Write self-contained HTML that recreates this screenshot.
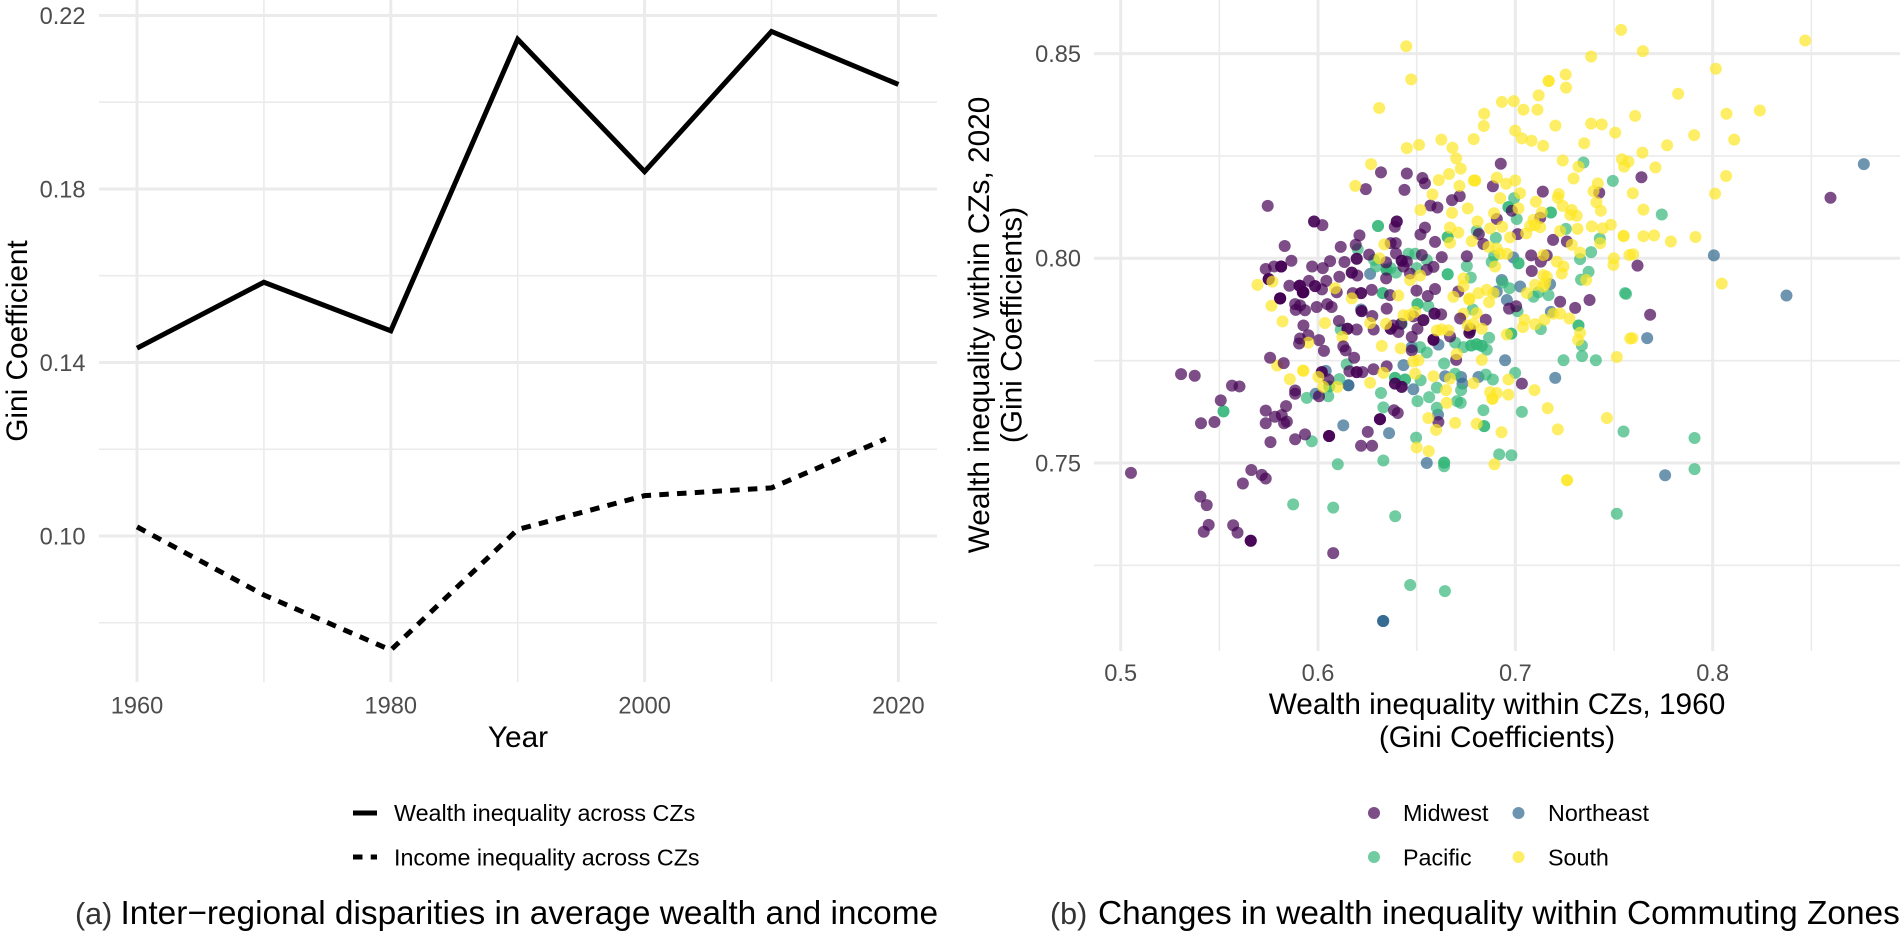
<!DOCTYPE html>
<html lang="en">
<head>
<meta charset="utf-8">
<title>Wealth and income inequality across Commuting Zones</title>
<style>
html,body{margin:0;padding:0;background:#fff;}
svg{display:block;}
text{font-family:"Liberation Sans",Arial,sans-serif;}
.tick{font-size:23.6px;fill:#4d4d4d;}
.title{font-size:29.8px;fill:#000;}
.legend{font-size:23.3px;fill:#000;}
.caption{font-size:33.4px;fill:#000;}
.tag{font-size:30.5px;fill:#333;}
</style>
</head>
<body>
<svg id="figure" width="1900" height="942" viewBox="0 0 1900 942" xmlns="http://www.w3.org/2000/svg">
  <rect width="1900" height="942" fill="#ffffff"/>
  <g id="left-grid"></g>
  <g id="right-grid"></g>
  <g id="left-marks"></g>
  <g id="right-marks"></g>
  <g id="left-ticks"></g>
  <g id="right-ticks"></g>

  <text class="title" x="518" y="747" text-anchor="middle">Year</text>
  <text class="title" transform="translate(27,341) rotate(-90)" text-anchor="middle">Gini Coefficient</text>

  <g>
    <line x1="353" x2="377" y1="813" y2="813" stroke="#000" stroke-width="5"/>
    <text class="legend" x="394" y="821">Wealth inequality across CZs</text>
    <line x1="353" x2="377" y1="857" y2="857" stroke="#000" stroke-width="5" stroke-dasharray="9.5 8.25"/>
    <text class="legend" x="394" y="865.5">Income inequality across CZs</text>
  </g>

  <text class="tag" x="75" y="924">(a)</text>
  <text class="caption" x="120.5" y="924">Inter−regional disparities in average wealth and income</text>

  <text class="title" x="1497" y="714" text-anchor="middle">Wealth inequality within CZs, 1960</text>
  <text class="title" x="1497" y="747" text-anchor="middle">(Gini Coefficients)</text>
  <text class="title" transform="translate(989,325) rotate(-90)" text-anchor="middle">Wealth inequality within CZs, 2020</text>
  <text class="title" transform="translate(1021.5,325) rotate(-90)" text-anchor="middle">(Gini Coefficients)</text>

  <g>
    <circle cx="1374" cy="813" r="6" fill="#440154" fill-opacity="0.7"/>
    <text class="legend" x="1403" y="821">Midwest</text>
    <circle cx="1518.5" cy="813" r="6" fill="#31688E" fill-opacity="0.7"/>
    <text class="legend" x="1548" y="821">Northeast</text>
    <circle cx="1374" cy="857" r="6" fill="#35B779" fill-opacity="0.7"/>
    <text class="legend" x="1403" y="865.5">Pacific</text>
    <circle cx="1518.5" cy="857" r="6" fill="#FDE725" fill-opacity="0.7"/>
    <text class="legend" x="1548" y="865.5">South</text>
  </g>

  <text class="tag" x="1050" y="924">(b)</text>
  <text class="caption" x="1098" y="924">Changes in wealth inequality within Commuting Zones</text>
</svg>
<script>
// Panel (a) data
const wealthYears = [1960,1970,1980,1990,2000,2010,2020];
const wealthGini = [0.1433,0.1585,0.1473,0.2145,0.1840,0.2163,0.2041];
const incomeYears = [1960,1970,1980,1990,2000,2010,2019];
const incomeGini = [0.1021,0.0864,0.0737,0.1015,0.1093,0.1111,0.1224];
const leftXMajor = [1960,1980,2000,2020];
const leftXMinor = [1970,1990,2010];
const leftYMajor = [0.10,0.14,0.18,0.22];
const leftYMinor = [0.08,0.12,0.16,0.20];

// Panel (b) ticks
const rightXMajor = [0.5,0.6,0.7,0.8];
const rightXMinor = [0.55,0.65,0.75,0.85];
const rightYMajor = [0.75,0.80,0.85];
const rightYMinor = [0.725,0.775,0.825];

// Panel (b) data: Gini 1960 and Gini 2020 per commuting zone
const southGini1960 = [0.6450,0.6512,0.6625,0.6681,0.6789,0.6789,0.6999,0.7033,0.7082,0.7141,0.7349,0.7506,0.6700,0.6723,0.6269,0.6189,0.6664,0.6612,0.6717,0.6796,0.6796,0.6906,0.6953,0.6999,0.7240,0.7320,0.7295,0.7540,0.7573,0.7551,0.7418,0.7396,0.7411,0.7433,0.6580,0.6519,0.6679,0.6759,0.6923,0.7024,0.7104,0.7220,0.7215,0.7240,0.7286,0.7311,0.7278,0.6892,0.7016,0.7134,0.6808,0.6669,0.6711,0.6872,0.6933,0.7092,0.7075,0.7126,0.7100,0.7387,0.7442,0.7484,0.7315,0.7227,0.7548,0.6779,0.6669,0.6336,0.6973,0.7055,0.6906,0.6864,0.6957,0.6923,0.7286,0.7328,0.7142,0.7210,0.7244,0.7235,0.7499,0.7497,0.7578,0.7142,0.7159,0.6897,0.6737,0.6737,0.6466,0.6517,0.6311,0.6686,0.6767,0.6813,0.6855,0.6889,0.7058,0.7100,0.7151,0.7430,0.6086,0.6171,0.6407,0.7142,0.7359,
0.6035,0.6123,0.6323,0.6419,0.6345,0.6264,0.6433,0.6492,0.6463,0.6737,0.6804,0.6766,0.6867,0.7046,0.7100,0.7148,0.7038,0.7193,0.7227,0.7274,0.6957,0.7328,0.7318,0.6830,0.6627,0.6602,0.6661,0.6788,0.6759,0.6703,0.6830,0.7514,0.7582,0.6509,0.6483,0.5926,0.6002,0.6331,0.6492,0.6585,0.6669,0.6788,0.6264,0.6965,0.7097,0.6098,0.6649,0.6965,0.6872,0.6906,0.6884,0.6884,0.6652,0.7164,0.7464,0.7215,0.6695,0.6804,0.6559,0.6598,0.6930,0.6500,0.6561,0.6894,0.6027,
0.5693,0.5769,0.5764,0.5820,0.5857,0.5793,0.5924,0.5951,
0.6447,0.6472,0.6310,0.6842,0.6840,0.7536,0.8469,0.7646,0.7384,0.7255,0.7257,0.7169,0.7169,0.7118,0.6992,0.6932,0.8016,0.7825,0.8239,0.8070,0.7607,0.7041,0.7112,0.7203,0.7384,0.7438,
0.7906,0.8109,0.7769,0.7644,0.7710,0.8068,0.8012,0.7595,0.7649,0.7549,0.7649,0.7703,0.7788,0.7913,0.7597,0.8046,0.7593,0.7262,0.7262];
const southGini2020 = [0.8269,0.8277,0.8290,0.8270,0.8291,0.8190,0.8312,0.8293,0.8287,0.8275,0.8281,0.8307,0.8244,0.8219,0.8230,0.8177,0.8206,0.8191,0.8177,0.8190,0.8190,0.8197,0.8182,0.8190,0.8239,0.8224,0.8195,0.8242,0.8236,0.8224,0.8183,0.8164,0.8137,0.8116,0.8156,0.8118,0.8111,0.8122,0.8147,0.8159,0.8138,0.8157,0.8148,0.8128,0.8118,0.8104,0.8106,0.8110,0.8122,0.8112,0.8090,0.8075,0.8063,0.8073,0.8077,0.8094,0.8079,0.8076,0.8081,0.8078,0.8073,0.8082,0.8072,0.8067,0.8055,0.8042,0.8038,0.8034,0.8051,0.8061,0.8024,0.8028,0.8011,0.8011,0.8033,0.8014,0.8008,0.7992,0.7980,0.7963,0.8000,0.7984,0.8008,0.7959,0.7955,0.7980,0.7951,0.7932,0.7947,0.7958,0.8000,0.7906,0.7902,0.7915,0.7923,0.7915,0.7915,0.7935,0.7939,0.8037,0.7927,0.7902,0.7909,0.7931,0.7947,
0.7842,0.7808,0.7786,0.7780,0.7840,0.7842,0.7861,0.7869,0.7861,0.7865,0.7866,0.7899,0.7893,0.7850,0.7839,0.7850,0.7832,0.7865,0.7865,0.7853,0.7814,0.7818,0.7800,0.7828,0.7826,0.7824,0.7824,0.7840,0.7836,0.7766,0.7752,0.7759,0.7804,0.7751,0.7748,0.7725,0.7710,0.7720,0.7718,0.7712,0.7706,0.7695,0.7696,0.7704,0.7678,0.7686,0.7678,0.7667,0.7673,0.7671,0.7657,0.7657,0.7647,0.7634,0.7610,0.7582,0.7598,0.7596,0.7610,0.7581,0.7575,0.7538,0.7529,0.7497,0.7686,
0.7935,0.7943,0.7884,0.7846,0.7705,0.7738,0.7726,0.7794,
0.8518,0.8437,0.8367,0.8353,0.8323,0.8558,0.8532,0.8506,0.8493,0.8449,0.8417,0.8433,0.8433,0.8398,0.8384,0.8382,0.8463,0.8402,0.8361,0.8353,0.8348,0.8363,0.8363,0.8324,0.8329,0.8327,
0.8301,0.8290,0.8276,0.8258,0.8222,0.8201,0.8158,0.8159,0.8119,0.8054,0.8054,0.8056,0.8041,0.8052,0.8010,0.7938,0.7805,0.7458,0.7458];

const midwestGini1960 = [0.6319,0.6450,0.6529,0.6542,0.6438,0.6242,0.6926,0.6886,0.7139,0.7425,0.6718,0.6679,0.6570,0.6605,0.5980,0.5980,0.6022,0.6399,0.6399,0.6389,0.6542,0.6519,0.6210,0.6593,0.6115,0.6191,0.6368,0.6394,0.6906,0.7126,0.7012,0.6838,0.6815,0.6982,0.7191,0.7261,0.7080,0.7159,0.7129,0.6196,0.6196,0.6259,0.6395,0.6627,0.6754,0.6526,0.5970,0.6024,0.6061,0.6134,0.6171,0.6171,0.6199,0.6108,0.6424,0.6424,0.6450,0.6433,0.6345,0.6345,0.6466,0.6585,0.6551,0.7083,0.5909,0.5954,0.5985,0.5985,0.6042,0.6020,0.5926,0.5926,0.6095,0.6176,0.6218,0.6218,0.6272,0.6365,0.6499,0.6593,0.6556,0.6711,0.7227,0.7376,
0.5909,0.5934,0.5993,0.6047,0.6069,0.6221,0.6221,0.6275,0.6348,0.6590,0.6590,0.6624,0.5926,0.5951,0.5909,0.6005,0.6030,0.6106,0.6149,0.6149,0.6196,0.6282,0.6368,0.6368,0.6407,0.6382,0.6421,0.6483,0.6534,0.6534,0.6475,0.6504,0.6585,0.6585,0.6585,0.6669,0.6720,0.6850,0.6767,0.6767,0.6771,0.7004,0.6968,0.7303,0.6128,0.6140,0.6183,0.6700,0.6475,0.6019,0.6019,0.6052,0.6159,0.6196,0.6196,0.6225,0.6281,0.6348,0.6390,0.6390,0.6424,0.6424,0.7033,0.6005,0.5934,0.6056,0.6056,0.6056,0.6252,0.6218,0.6274,0.6314,0.6314,0.6314,0.6385,0.6404,0.6610,
0.5745,0.5831,0.5865,0.5813,0.5813,0.5813,0.5735,0.5777,0.5750,0.5750,0.5750,0.5808,0.5808,0.5808,0.5808,0.5855,0.5906,0.5906,0.5923,0.5923,0.5923,0.5884,0.5887,0.5757,0.5826,0.5306,0.5375,0.5564,0.5602,0.5884,0.5884,0.5507,0.5838,0.5735,0.5782,0.5816,0.5828,0.5842,0.5735,0.5407,0.5475,0.5759,0.5884,0.5904,
0.5052,0.5662,0.5715,0.5735,0.5619,0.5404,0.5436,0.5446,0.5421,0.5570,0.5592,0.5659,0.5659,0.5659,0.6077,
0.7639,0.8597,0.7619,0.7683];
const midwestGini2020 = [0.8210,0.8207,0.8196,0.8183,0.8167,0.8169,0.8231,0.8176,0.8163,0.8160,0.8152,0.8142,0.8129,0.8124,0.8090,0.8090,0.8081,0.8090,0.8090,0.8077,0.8075,0.8058,0.8056,0.8040,0.8028,0.8033,0.8037,0.8037,0.8096,0.8099,0.8059,0.8035,0.8059,0.8116,0.8045,0.8041,0.8007,0.8007,0.7992,0.7999,0.7999,0.8009,0.8012,0.8003,0.8005,0.8008,0.7980,0.7976,0.7993,0.7991,0.7965,0.7965,0.7958,0.7955,0.7994,0.7994,0.7992,0.7980,0.7990,0.7951,0.7963,0.7979,0.7972,0.7969,0.7933,0.7945,0.7932,0.7932,0.7945,0.7924,0.7917,0.7917,0.7917,0.7915,0.7915,0.7915,0.7923,0.7910,0.7921,0.7925,0.7908,0.7919,0.7894,0.7898,
0.7885,0.7873,0.7881,0.7888,0.7881,0.7871,0.7871,0.7859,0.7877,0.7865,0.7865,0.7863,0.7836,0.7812,0.7804,0.7800,0.7774,0.7847,0.7828,0.7828,0.7826,0.7826,0.7828,0.7828,0.7820,0.7836,0.7840,0.7858,0.7849,0.7849,0.7808,0.7828,0.7801,0.7801,0.7801,0.7809,0.7853,0.7850,0.7818,0.7818,0.7828,0.7883,0.7877,0.7879,0.7785,0.7775,0.7757,0.7752,0.7775,0.7722,0.7722,0.7704,0.7724,0.7722,0.7722,0.7722,0.7729,0.7736,0.7694,0.7694,0.7686,0.7686,0.7694,0.7663,0.7570,0.7566,0.7566,0.7566,0.7576,0.7542,0.7542,0.7607,0.7607,0.7607,0.7629,0.7622,0.7600,
0.8128,0.8030,0.7994,0.7980,0.7980,0.7980,0.7974,0.7980,0.7949,0.7949,0.7949,0.7902,0.7902,0.7902,0.7902,0.7933,0.7933,0.7933,0.7917,0.7917,0.7917,0.7888,0.7874,0.7757,0.7744,0.7717,0.7713,0.7689,0.7687,0.7677,0.7669,0.7653,0.7639,0.7628,0.7613,0.7617,0.7597,0.7601,0.7597,0.7597,0.7600,0.7551,0.7558,0.7792,
0.7476,0.7483,0.7471,0.7462,0.7450,0.7418,0.7397,0.7349,0.7332,0.7348,0.7330,0.7310,0.7310,0.7310,0.7280,
0.8198,0.8148,0.7982,0.7862];

const northeastGini1960 = [0.6264,0.6931,0.6990,0.7024,0.7176,0.6906,0.6957,0.6218,0.6610,0.6475,0.6433,0.6948,0.6039,0.6154,0.6154,0.6483,0.5988,0.6644,0.6725,0.6732,0.6813,0.7202,0.7180,0.6771,0.6128,0.6360,0.6608,0.6551,0.6330,0.6330,0.6330,0.8766,0.8006,0.8374,0.7668,0.7759];
const northeastGini2020 = [0.7962,0.7947,0.8002,0.7931,0.7937,0.7919,0.7898,0.7875,0.7789,0.7783,0.7739,0.7751,0.7725,0.7690,0.7690,0.7680,0.7669,0.7712,0.7710,0.7694,0.7710,0.7708,0.7869,0.7824,0.7592,0.7573,0.7618,0.7500,0.7114,0.7114,0.7114,0.8230,0.8007,0.7909,0.7805,0.7470];

const pacificGini1960 = [0.6304,0.6304,0.6201,0.6284,0.6294,0.6348,0.6348,0.6348,0.6368,0.6395,0.6458,0.6492,0.6551,0.6500,0.6657,0.6657,0.6657,0.6657,0.6804,0.6901,0.7007,0.6965,0.6965,0.6994,0.7345,0.7494,0.7180,0.7180,0.7256,0.7428,0.7384,0.7328,0.7371,0.7333,0.7016,0.7016,0.6880,0.6892,0.6754,0.6774,0.6970,0.6936,0.7117,0.7092,0.7168,0.7556,0.6328,0.6328,
0.6504,0.6504,0.6559,0.6784,0.7011,0.6115,0.6424,0.7320,0.7320,0.6979,0.6979,0.7129,0.6867,0.6695,0.6737,0.6776,0.6776,0.6804,0.6804,0.6830,0.6830,0.6855,0.7337,0.6517,0.6551,0.6145,0.6639,0.6999,0.7244,0.7338,0.7408,0.6390,0.6390,0.6441,0.6441,0.6520,0.6695,0.6886,0.6850,0.6108,0.6057,0.6057,0.6052,0.5943,0.6319,0.6602,0.6563,0.6504,0.6725,0.6705,0.6723,0.6838,0.7033,0.6331,0.6602,0.6918,0.6980,0.6497,0.6842,0.6842,0.7548,0.5968,0.6100,0.6331,0.6639,0.6639,0.6639,
0.5521,0.5521,0.5874,0.6077,0.6391,0.6467,0.6643,0.7742,0.7561,0.7908,0.7908,0.7514];
const pacificGini2020 = [0.8079,0.8079,0.8022,0.7996,0.7980,0.7972,0.7972,0.7972,0.7976,0.7965,0.8011,0.8011,0.7996,0.7976,0.8052,0.8052,0.7961,0.7961,0.8067,0.8050,0.8096,0.8125,0.8125,0.8147,0.8234,0.8189,0.8112,0.8112,0.8072,0.8048,0.8015,0.7998,0.7967,0.7948,0.7988,0.7988,0.7991,0.8006,0.7981,0.7953,0.7927,0.7941,0.7917,0.7906,0.7910,0.7915,0.7915,0.7915,
0.7888,0.7888,0.7883,0.7875,0.7871,0.7826,0.7840,0.7836,0.7836,0.7816,0.7816,0.7827,0.7806,0.7794,0.7783,0.7787,0.7787,0.7790,0.7790,0.7786,0.7786,0.7777,0.7787,0.7783,0.7770,0.7741,0.7743,0.7720,0.7751,0.7761,0.7751,0.7708,0.7708,0.7704,0.7704,0.7702,0.7718,0.7704,0.7716,0.7705,0.7687,0.7687,0.7663,0.7659,0.7671,0.7684,0.7661,0.7651,0.7678,0.7651,0.7647,0.7629,0.7625,0.7636,0.7635,0.7521,0.7519,0.7562,0.7590,0.7590,0.7577,0.7553,0.7497,0.7506,0.7501,0.7501,0.7492,
0.7626,0.7626,0.7399,0.7391,0.7370,0.7202,0.7187,0.8107,0.7913,0.7561,0.7485,0.7376];

// Axis functions
function leftX(v){return 137 + (v-1960)*12.69;}
function leftY(v){return 536 - (v-0.10)*4338;}
function rightX(v){return 1120.7 + (v-0.5)*1973.3;}
function rightY(v){return 258.3 - (v-0.8)*4094;}

const NS = 'http://www.w3.org/2000/svg';
function make(tag, attrs, parent){
  const node = document.createElementNS(NS, tag);
  for (const k in attrs) node.setAttribute(k, attrs[k]);
  parent.appendChild(node);
  return node;
}
const GRID = '#ebebeb';
const MAJOR_W = 3;
const MINOR_W = 1.6;
const leftGrid = document.getElementById('left-grid');
const rightGrid = document.getElementById('right-grid');
const leftMarks = document.getElementById('left-marks');
const rightMarks = document.getElementById('right-marks');
const leftTicks = document.getElementById('left-ticks');
const rightTicks = document.getElementById('right-ticks');

function vGrid(parent, px, top, bottom, width){
  const el = make('line', {x1:px,x2:px,y1:top,y2:bottom,stroke:GRID,'stroke-width':width}, parent);
  
  
}
function hGrid(parent, py, left, right, width){
  const el = make('line', {x1:left,x2:right,y1:py,y2:py,stroke:GRID,'stroke-width':width}, parent);
  
  
}
function tickLabel(parent, px, py, anchor, str){
  const el = make('text', {x:px,y:py,'text-anchor':anchor,'class':'tick'}, parent);
  el.textContent = str;
  
  
}

leftYMinor.forEach(v => hGrid(leftGrid, leftY(v), 99, 937, MINOR_W));
leftXMinor.forEach(v => vGrid(leftGrid, leftX(v), 0, 682, MINOR_W));
leftYMajor.forEach(v => hGrid(leftGrid, leftY(v), 99, 937, MAJOR_W));
leftXMajor.forEach(v => vGrid(leftGrid, leftX(v), 0, 682, MAJOR_W));

rightYMinor.forEach(v => hGrid(rightGrid, rightY(v), 1094, 1900, MINOR_W));
rightXMinor.forEach(v => vGrid(rightGrid, rightX(v), 0, 651, MINOR_W));
rightYMajor.forEach(v => hGrid(rightGrid, rightY(v), 1094, 1900, MAJOR_W));
rightXMajor.forEach(v => vGrid(rightGrid, rightX(v), 0, 651, MAJOR_W));

leftXMajor.forEach(v => tickLabel(leftTicks, leftX(v), 713.6, 'middle', String(v)));
leftYMajor.forEach(v => tickLabel(leftTicks, 85.5, leftY(v)+8.4, 'end', v.toFixed(2)));
rightXMajor.forEach(v => tickLabel(rightTicks, rightX(v), 681, 'middle', v.toFixed(1)));
rightYMajor.forEach(v => tickLabel(rightTicks, 1081, rightY(v)+8.4, 'end', v.toFixed(2)));

function linePath(xs, vals){
  return vals.map((v,i) => (i ? 'L' : 'M') + leftX(xs[i]).toFixed(2) + ' ' + leftY(v).toFixed(2)).join(' ');
}
const wealthLine = make('path', {d:linePath(wealthYears, wealthGini),fill:'none',stroke:'#000','stroke-width':5,'stroke-linejoin':'miter'}, leftMarks);


const incomeLine = make('path', {d:linePath(incomeYears, incomeGini),fill:'none',stroke:'#000','stroke-width':5,'stroke-dasharray':'9.5 8.25'}, leftMarks);



function drawPoint(vx, vy, color, label){
  const dot = make('circle', {cx:rightX(vx).toFixed(2),cy:rightY(vy).toFixed(2),r:6,fill:color,'fill-opacity':0.7}, rightMarks);
  
  
}
const longest = Math.max(southGini1960.length, midwestGini1960.length, northeastGini1960.length, pacificGini1960.length);
for (let i = 0; i < longest; i++){
  if (i < midwestGini1960.length) drawPoint(midwestGini1960[i], midwestGini2020[i], '#440154', 'point-midwest');
  if (i < southGini1960.length) drawPoint(southGini1960[i], southGini2020[i], '#FDE725', 'point-south');
  if (i < northeastGini1960.length) drawPoint(northeastGini1960[i], northeastGini2020[i], '#31688E', 'point-northeast');
  if (i < pacificGini1960.length) drawPoint(pacificGini1960[i], pacificGini2020[i], '#35B779', 'point-pacific');
}
</script>
</body>
</html>
